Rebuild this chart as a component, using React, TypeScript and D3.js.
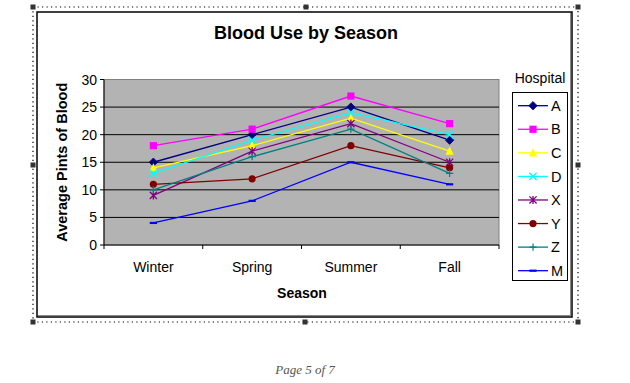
import React from "react";
import * as d3 from "d3";

const seasons = ["Winter", "Spring", "Summer", "Fall"];
const hospitals = ["A", "B", "C", "D", "X", "Y", "Z", "M"];
const valuesA = [15, 20, 25, 19];
const valuesB = [18, 21, 27, 22];
const valuesC = [14, 18, 23, 17];
const valuesD = [13, 19, 24, 20];
const valuesX = [9, 17, 22, 15];
const valuesY = [11, 12, 18, 14];
const valuesZ = [10, 16, 21, 13];
const valuesM = [4, 8, 15, 11];
const yTicks = [0, 5, 10, 15, 20, 25, 30];

const seriesValues = [valuesA, valuesB, valuesC, valuesD, valuesX, valuesY, valuesZ, valuesM];
const colors = ["#000080", "#FF00FF", "#FFFF00", "#00FFFF", "#800080", "#800000", "#008080", "#0000FF"];
const markers = ["diamond", "square", "triangle", "x", "star", "circle", "plus", "dash"];

const FONT = "'Liberation Sans', Arial, Helvetica, sans-serif";

function Marker({ type, x, y, color }: { type: string; x: number; y: number; color: string }) {
  const s = 3.6;
  switch (type) {
    case "diamond":
      return <path d={`M${x},${y - s - 0.6}L${x + s + 0.6},${y}L${x},${y + s + 0.6}L${x - s - 0.6},${y}Z`} fill={color} stroke={color} strokeWidth={0.8} />;
    case "square":
      return <rect x={x - s} y={y - s} width={2 * s} height={2 * s} fill={color} />;
    case "triangle":
      return <path d={`M${x},${y - s - 1}L${x + s + 0.5},${y + s}L${x - s - 0.5},${y + s}Z`} fill={color} />;
    case "x":
      return <path d={`M${x - s},${y - s}L${x + s},${y + s}M${x - s},${y + s}L${x + s},${y - s}`} stroke={color} strokeWidth={1.3} fill="none" />;
    case "star":
      return <path d={`M${x - s},${y - s}L${x + s},${y + s}M${x - s},${y + s}L${x + s},${y - s}M${x},${y - s - 0.5}L${x},${y + s + 0.5}`} stroke={color} strokeWidth={1.3} fill="none" />;
    case "circle":
      return <circle cx={x} cy={y} r={s} fill={color} />;
    case "plus":
      return <path d={`M${x - s},${y}L${x + s},${y}M${x},${y - s}L${x},${y + s}`} stroke={color} strokeWidth={1.2} fill="none" />;
    case "dash":
      return <path d={`M${x - s},${y}L${x + s},${y}`} stroke={color} strokeWidth={2.2} fill="none" />;
    default:
      return null;
  }
}

export default function App() {
  const plotL = 104, plotR = 499, plotT = 79.5, plotB = 245;
  const x = d3.scaleBand<string>().domain(seasons).range([plotL, plotR]).padding(0);
  const y = d3.scaleLinear().domain([0, 30]).range([plotB, plotT]);
  const cx = (s: string) => (x(s) as number) + x.bandwidth() / 2;
  const line = d3
    .line<number>()
    .x((_, i) => cx(seasons[i]))
    .y((v) => y(v));

  const legendTop = 105.7;
  const legendStep = 23.57;

  return (
    <svg width={630} height={383} style={{ position: "absolute", left: 0, top: 0, background: "#fff" }}>
      {/* selection frame */}
      <rect x={33} y={7} width={545} height={315} fill="none" stroke="#000" strokeWidth={1.2} strokeDasharray="1.2,3.3" />
      {[
        [33, 7], [306, 7], [578, 7],
        [33, 165], [578, 165],
        [33, 322], [305, 322], [578, 322],
      ].map(([hx, hy], i) => (
        <rect key={i} x={hx - 2.5} y={hy - 2.5} width={5} height={5} fill="#333" />
      ))}
      {/* chart border */}
      <rect x={37} y={12} width={535} height={305} fill="#fff" stroke="#000" strokeWidth={1.5} />
      <line x1={570.5} y1={13} x2={570.5} y2={316} stroke="#888" strokeWidth={1} />
      <line x1={38} y1={315.5} x2={571} y2={315.5} stroke="#888" strokeWidth={1} />

      {/* title */}
      <text x={306} y={39} textAnchor="middle" fontFamily={FONT} fontWeight="bold" fontSize={18} fill="#000">
        Blood Use by Season
      </text>

      {/* plot area */}
      <rect x={plotL} y={plotT} width={plotR - plotL} height={plotB - plotT} fill="#B3B3B3" stroke="#808080" strokeWidth={1} />
      {yTicks.map((t) => (
        <g key={t}>
          {t > 0 && t < 30 && <line x1={plotL} x2={plotR} y1={y(t)} y2={y(t)} stroke="#000" strokeWidth={1} />}
          {t === 30 && <line x1={plotL} x2={plotR} y1={y(t)} y2={y(t)} stroke="#808080" strokeWidth={1} />}
          <line x1={plotL - 4} x2={plotL} y1={y(t)} y2={y(t)} stroke="#000" strokeWidth={1} />
          <text x={plotL - 7} y={y(t)} dy="0.36em" textAnchor="end" fontFamily={FONT} fontSize={14} fill="#000">
            {t}
          </text>
        </g>
      ))}
      {/* axes */}
      <line x1={plotL} x2={plotL} y1={plotT} y2={plotB} stroke="#000" strokeWidth={1} />
      <line x1={plotL} x2={plotR} y1={plotB} y2={plotB} stroke="#000" strokeWidth={1} />
      {[...seasons.map((s) => x(s) as number), plotR].map((tx, i) => (
        <line key={i} x1={tx} x2={tx} y1={plotB} y2={plotB + 4} stroke="#000" strokeWidth={1} />
      ))}
      {seasons.map((s) => (
        <text key={s} x={cx(s)} y={267} dy="0.36em" textAnchor="middle" fontFamily={FONT} fontSize={14} fill="#000">
          {s}
        </text>
      ))}
      <text x={302} y={293} dy="0.36em" textAnchor="middle" fontFamily={FONT} fontWeight="bold" fontSize={14} fill="#000">
        Season
      </text>
      <text
        transform={`translate(62,${(plotT + plotB) / 2}) rotate(-90)`}
        dy="0.36em"
        textAnchor="middle"
        fontFamily={FONT}
        fontWeight="bold"
        fontSize={14.5}
        fill="#000"
      >
        Average Pints of Blood
      </text>

      {/* series */}
      {seriesValues.map((vals, si) => (
        <g key={hospitals[si]}>
          <path d={line(vals) || ""} fill="none" stroke={colors[si]} strokeWidth={1.3} />
          {vals.map((v, i) => (
            <Marker key={i} type={markers[si]} x={cx(seasons[i])} y={y(v)} color={colors[si]} />
          ))}
        </g>
      ))}

      {/* legend */}
      <text x={540} y={78} dy="0.36em" textAnchor="middle" fontFamily={FONT} fontSize={14} fill="#000">
        Hospital
      </text>
      <rect x={512.5} y={92.5} width={55} height={188} fill="#fff" stroke="#000" strokeWidth={1} />
      {hospitals.map((h, i) => {
        const ly = legendTop + i * legendStep;
        return (
          <g key={h}>
            <line x1={518} x2={548} y1={ly} y2={ly} stroke={colors[i]} strokeWidth={1.3} />
            <Marker type={markers[i]} x={533} y={ly} color={colors[i]} />
            <text x={551} y={ly} dy="0.36em" fontFamily={FONT} fontSize={14.5} fill="#000">
              {h}
            </text>
          </g>
        );
      })}

      {/* footer */}
      <text x={305} y={374} textAnchor="middle" fontFamily="'Liberation Serif', 'Times New Roman', serif" fontStyle="italic" fontSize={13} fill="#555">
        Page 5 of 7
      </text>
    </svg>
  );
}
